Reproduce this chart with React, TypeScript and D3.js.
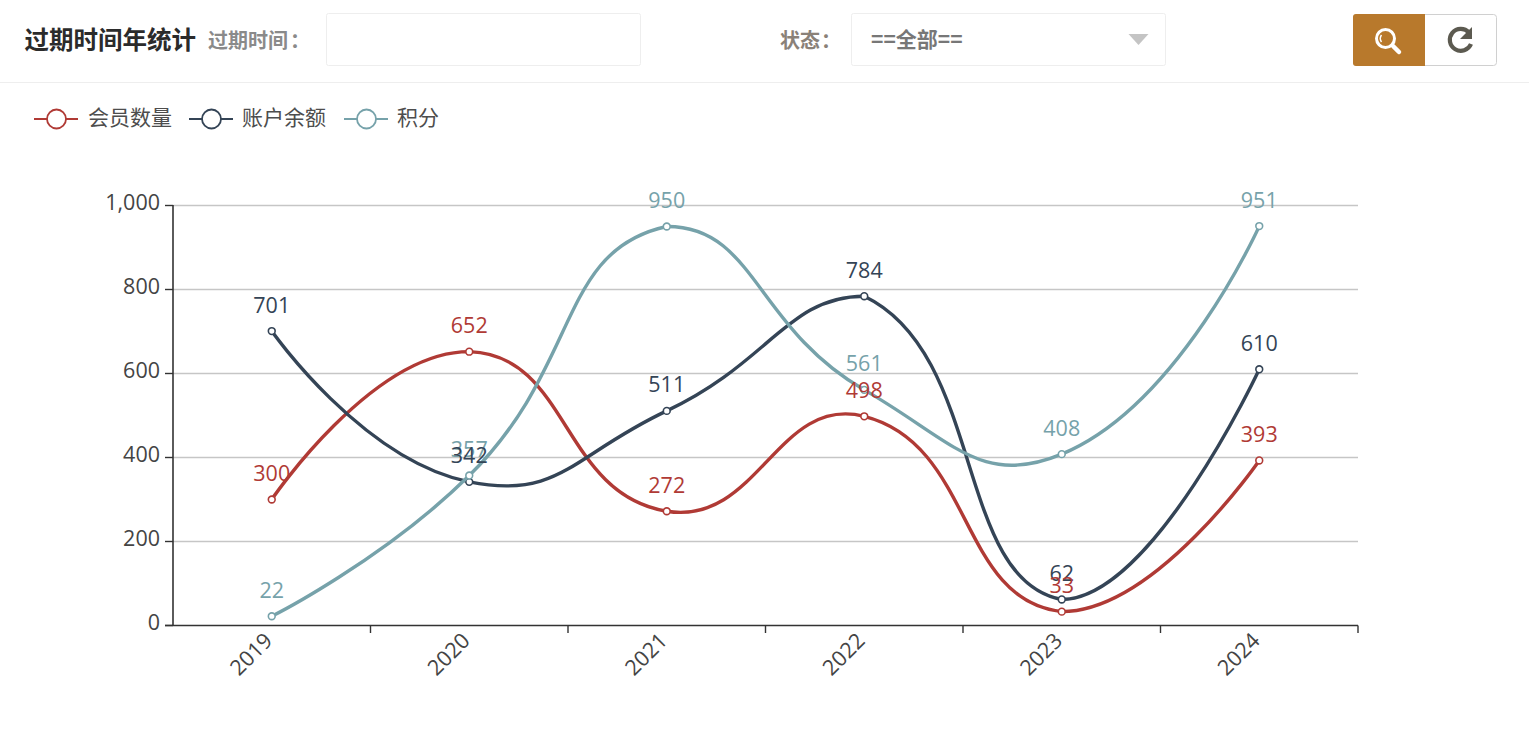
import React from "react";
import * as d3 from "d3";

const years = ["2019", "2020", "2021", "2022", "2023", "2024"];
const memberCount = [300, 652, 272, 498, 33, 393];
const balance = [701, 342, 511, 784, 62, 610];
const points = [22, 357, 950, 561, 408, 951];
const yTicks = [0, 200, 400, 600, 800, 1000];
const seriesNames = ["会员数量", "账户余额", "积分"];
const seriesColors = ["#b03a35", "#344456", "#76a2aa"];
const seriesValues = [memberCount, balance, points];

const W = 1529, H = 745;
const FONT = "'Open Sans','Noto Sans CJK SC',sans-serif";
const CJK = "'Noto Sans CJK SC',sans-serif";

const x = d3.scaleBand<string>().domain(years).range([173, 1358]);
const y = d3.scaleLinear().domain([0, 1000]).range([625.5, 205.5]);
const fmt = d3.format(",");

// Same spline idea as the source chart: tangent split by segment length, controls kept in the bbox.
function smoothPath(pts: [number, number][], smooth = 0.5): string {
  const xMin = d3.min(pts, p => p[0])!, xMax = d3.max(pts, p => p[0])!;
  const yMin = d3.min(pts, p => p[1])!, yMax = d3.max(pts, p => p[1])!;
  const clamp = (c: [number, number]): [number, number] => [
    Math.min(xMax, Math.max(xMin, c[0])),
    Math.min(yMax, Math.max(yMin, c[1])),
  ];
  const path = d3.path();
  path.moveTo(pts[0][0], pts[0][1]);
  let cp0: [number, number] = pts[0];
  for (let i = 1; i < pts.length; i++) {
    const p = pts[i];
    let cp1: [number, number] = p;
    let nextCp0: [number, number] = p;
    if (i < pts.length - 1) {
      const prev = pts[i - 1], next = pts[i + 1];
      const vx = next[0] - prev[0], vy = next[1] - prev[1];
      const lp = Math.hypot(p[0] - prev[0], p[1] - prev[1]);
      const ln = Math.hypot(next[0] - p[0], next[1] - p[1]);
      const r = ln / (ln + lp);
      cp1 = clamp([p[0] - vx * smooth * (1 - r), p[1] - vy * smooth * (1 - r)]);
      nextCp0 = clamp([p[0] + vx * smooth * r, p[1] + vy * smooth * r]);
    }
    path.bezierCurveTo(cp0[0], cp0[1], cp1[0], cp1[1], p[0], p[1]);
    cp0 = nextCp0;
  }
  return path.toString();
}

const cx = (yr: string) => x(yr)! + x.bandwidth() / 2;

export default function App() {
  const legendX = [34, 189, 344];
  const legendTextX = [88, 242, 397];
  const labelOrder = [2, 1, 0];
  return (
    <svg width={W} height={H} viewBox={`0 0 ${W} ${H}`}
      style={{ position: "absolute", left: 0, top: 0, background: "#fff" }}>
      {/* toolbar */}
      <text x={24.5} y={49} fontFamily={CJK} fontSize={24.5} fontWeight={700} fill="#2b2b2b">过期时间年统计</text>
      <text x={208} y={48} fontFamily={CJK} fontSize={20} fontWeight={700} fill="#8a8a8a">过期时间<tspan dx={2}>：</tspan></text>
      <rect x={326.5} y={13.5} width={314} height={52} rx={2} fill="#fff" stroke="#eeeeee" />
      <text x={780} y={47.5} fontFamily={CJK} fontSize={20} fontWeight={700} fill="#8a8178">状态<tspan dx={1}>：</tspan></text>
      <rect x={851.5} y={13.5} width={314} height={52} rx={2} fill="#fff" stroke="#eeeeee" />
      <text x={871} y={47} fontFamily={CJK} fontSize={21} fontWeight={700} fill="#777">==全部==</text>
      <path d="M1128.5 34H1148.5L1138.5 45Z" fill="#c4c4c4" />
      <rect x={1353.5} y={14.5} width={143} height={51} rx={3} fill="#fff" stroke="#d0d0d0" />
      <path d="M1425 14H1356a3 3 0 0 0-3 3V63a3 3 0 0 0 3 3H1425Z" fill="#b8792c" />
      <circle cx={1385.5} cy={38.5} r={9} fill="none" stroke="#fff" strokeWidth={3} />
      <path d="M1381.5 35A6 6 0 0 0 1381.5 42" fill="none" stroke="#fff" strokeWidth={1.5} />
      <path d="M1393 46L1399 52" stroke="#fff" strokeWidth={4.5} strokeLinecap="round" />
      <path d="M1469 32.5A11 11 0 1 0 1471 44" fill="none" stroke="#5c5a50" strokeWidth={4.2} />
      <path d="M1472 27V39H1460Z" fill="#5c5a50" />
      <line x1={0} x2={W} y1={82.5} y2={82.5} stroke="#eeeeee" />

      {/* legend */}
      {seriesNames.map((n, i) => (
        <g key={n}>
          <line x1={legendX[i]} x2={legendX[i] + 44} y1={119} y2={119} stroke={seriesColors[i]} strokeWidth={2} />
          <circle cx={legendX[i] + 22.5} cy={119} r={9.5} fill="#fff" stroke={seriesColors[i]} strokeWidth={1.8} />
          <text x={legendTextX[i]} y={125} fontFamily={CJK} fontSize={21} fill="#4d4d4d">{n}</text>
        </g>
      ))}

      {/* grid & axes */}
      {yTicks.filter(t => t > 0).map(t => (
        <line key={t} x1={173} x2={1358} y1={y(t)} y2={y(t)} stroke="#c6c6c6" strokeWidth={1.6} />
      ))}
      {yTicks.map(t => (
        <g key={t}>
          <line x1={165} x2={173} y1={y(t)} y2={y(t)} stroke="#333" strokeWidth={1.4} />
          <text x={160} y={y(t) - 1} textAnchor="end" dominantBaseline="middle"
            fontFamily={FONT} fontSize={21.5} fill="#444">{fmt(t)}</text>
        </g>
      ))}
      <line x1={173} x2={173} y1={205} y2={626} stroke="#333" strokeWidth={1.6} />
      <line x1={165} x2={1358} y1={y(0)} y2={y(0)} stroke="#333" strokeWidth={1.6} />
      {d3.range(1, years.length + 1).map(i => {
        const tx = i < years.length ? x(years[i])! : x.range()[1];
        return <line key={i} x1={tx} x2={tx} y1={625.5} y2={633} stroke="#333" strokeWidth={1.4} />;
      })}
      {years.map(yr => (
        <text key={yr} transform={`translate(${cx(yr) - 2},${638}) rotate(-45)`} textAnchor="end"
          dominantBaseline="middle" fontFamily={FONT} fontSize={21.5} fill="#444">{yr}</text>
      ))}

      {/* series */}
      {seriesValues.map((vals, s) => {
        const pts = vals.map((v, i) => [cx(years[i]), y(v)] as [number, number]);
        return (
          <g key={s}>
            <path d={smoothPath(pts)} fill="none" stroke={seriesColors[s]} strokeWidth={3.4} />
            {pts.map((p, i) => (
              <circle key={i} cx={p[0]} cy={p[1]} r={3.4} fill="#fff" stroke={seriesColors[s]} strokeWidth={1.6} />
            ))}
          </g>
        );
      })}
      {labelOrder.map(s => (
        <g key={s}>
          {seriesValues[s].map((v, i) => (
            <text key={i} x={cx(years[i])} y={y(v) - 18.5} textAnchor="middle" fontFamily={FONT}
              fontSize={21.5} fill={seriesColors[s]}>{v}</text>
          ))}
        </g>
      ))}
    </svg>
  );
}
